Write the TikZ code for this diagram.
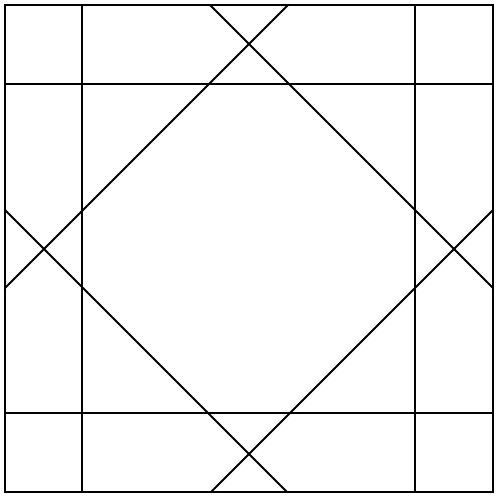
\documentclass[tikz,border=0pt]{standalone}
\usetikzlibrary{calc}
\tikzstyle{frame} = [draw,line width=1.4pt]
\tikzstyle{grid line} = [draw,line width=1.1pt]
\tikzstyle{cross line} = [draw,line width=1.1pt]

\begin{document}
\begin{tikzpicture}[x=0.02cm, y=-0.02cm]

  \useasboundingbox (0,0) rectangle (500,498);

  % outer square
  \coordinate (tl) at (5,5);
  \coordinate (br) at (493,492);
  \path[frame] (tl) rectangle (br);

  % inner frame lines
  \foreach \x in {82, 415}
         \path[grid line] (\x, 5) -- (\x, 492);
  \foreach \y in {84, 413}
         \path[grid line] (5, \y) -- (493, \y);

  % diagonal lines of the diamond
  \foreach \xa/\ya/\xb/\yb in {210/5/493/288, 288/5/5/288, 5/210/287/492, 493/210/211/492}
         \path[cross line] (\xa, \ya) -- (\xb, \yb);

\end{tikzpicture}
\end{document}
